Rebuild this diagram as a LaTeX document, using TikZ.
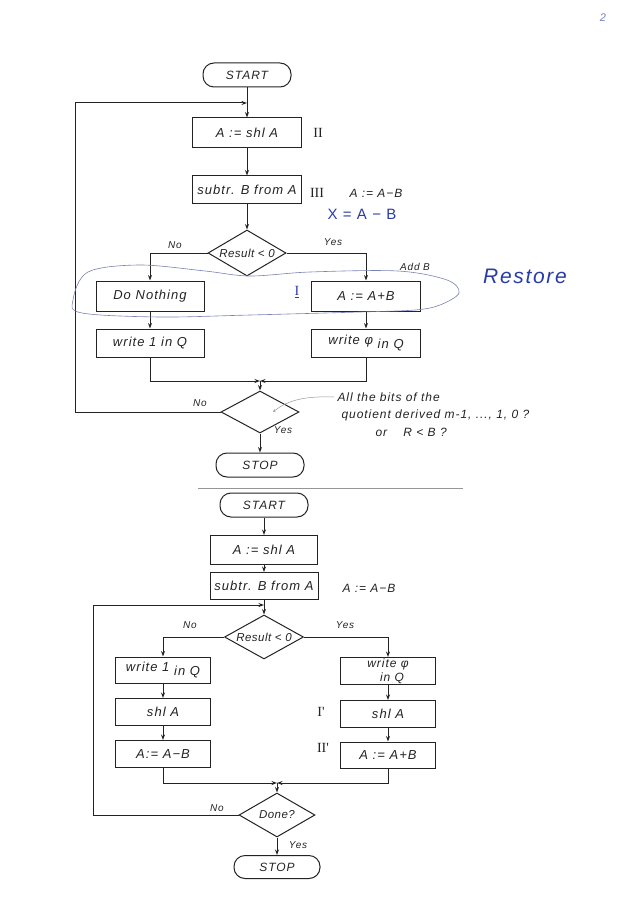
\documentclass[tikz,border=0pt]{standalone}
\usepackage{fontspec}
\setmainfont{Liberation Sans}[LetterSpace=8]
\newfontfamily\romfont{Liberation Serif}
\usetikzlibrary{arrows.meta,shapes.geometric,calc}
\definecolor{ink}{RGB}{35,35,35}
\definecolor{blueink}{RGB}{40,60,165}
\definecolor{pencil}{RGB}{120,130,180}
\definecolor{greyline}{RGB}{150,150,150}
\tikzset{
  line/.style={draw=ink, line width=1pt},
  arr/.style={line, -{Stealth[length=5.5pt,width=4pt]}},
  box/.style={draw=ink, line width=1pt, rectangle, inner sep=0pt, text=ink,
              font=\fontsize{13}{15}\selectfont\itshape},
  term/.style={draw=ink, line width=1pt, rectangle, rounded corners=11pt, inner sep=0pt,
               minimum width=88pt, minimum height=24pt, text=ink,
               font=\fontsize{12}{14}\selectfont\itshape},
  dia/.style={draw=ink, line width=1pt, diamond, inner sep=0pt},
  dtxt/.style={text=ink, font=\fontsize{11.5}{14}\selectfont\itshape\addfontfeatures{LetterSpace=4}},
  lbl/.style={text=ink, font=\fontsize{10}{12}\selectfont\itshape},
  note/.style={text=ink, font=\fontsize{12}{14}\selectfont\itshape},
  rom/.style={text=ink, font=\fontsize{14}{16}\selectfont\romfont},
}
\begin{document}
\begin{tikzpicture}[x=1pt,y=-1pt]
\useasboundingbox (0,0) rectangle (619,901);
% page number
\node[text=pencil, font=\fontsize{11}{12}\selectfont\itshape] (pg) at (603,18) {2};

% ================= TOP FLOWCHART =================
\node[term] (s1) at (247,75) {START};
\coordinate (j1) at (247,103);
\node[box, minimum width=109pt, minimum height=30pt] (b1) at (247,133) {A := shl A};
\node[box, minimum width=109pt, minimum height=28pt] (b2) at (247,190) {subtr. B from A};
\node[dia, minimum width=78pt, minimum height=46pt] (d1) at (247,253) {};
\node[dtxt] (d1t) at (d1) {Result < 0};
\node[box, minimum width=108pt, minimum height=30pt] (b3) at (150,296) {Do Nothing};
\node[box, minimum width=108pt, minimum height=28pt] (b4) at (150,343) {write 1 in Q};
\node[box, minimum width=109pt, minimum height=30pt] (b5) at (366,296) {A := A+B};
\node[box, minimum width=109pt, minimum height=28pt] (b6) at (366,343) {write φ \raisebox{-4pt}{in Q}};
\coordinate (m1) at (260,381);
\node[dia, minimum width=78pt, minimum height=42pt] (d2) at (260,412) {};
\coordinate (c1) at (273,412);
\node[term] (s2) at (260,465) {STOP};
\coordinate (lpx) at (75,0);

\draw[arr] (s1) -- (b1);
\draw[arr] (b1) -- (b2);
\draw[arr] (b2) -- (d1);
\draw[arr] (d1.west) -| (b3.north);
\draw[arr] (d1.east) -| (b5.north);
\draw[arr] (b3) -- (b4);
\draw[arr] (b5) -- (b6);
\draw[arr] (b4.south) |- (m1);
\draw[arr] (b6.south) |- (m1);
\draw[arr] (m1) -- (d2.north);
\draw[arr] (d2.west) -| (lpx |- j1) -- (j1);
\draw[arr] (d2.south) -- (s2.north);

\node[lbl] (n1) at (175,245) {No};
\node[lbl] (y1) at (333,242) {Yes};
\node[lbl] (n2) at (200,403) {No};
\node[lbl] (y2) at (283,430) {Yes};

\node[rom] (r2) at (318,133) {II};
\node[rom] (r3) at (317,193) {III};
\node[note] (e1) at (376,193) {A := A−B};
\node[text=blueink, font=\fontsize{15}{16}\selectfont] (e2) at (362,214) {X = A − B};
\node[text=blueink, font=\fontsize{14}{14}\selectfont\romfont] (r1) at (297,292) {\underline{I}};
\node[lbl] (ab) at (415,267) {Add B};
\node[text=blueink, font=\fontsize{21}{24}\selectfont\itshape] (rs) at (525,276) {Restore};
\draw[pencil, line width=0.6pt] plot[smooth cycle, tension=0.55] coordinates
  {(73,300) (88,272) (140,265) (205,271) (250,276) (310,272) (398,271) (447,280)
   (459,293) (440,305) (415,310) (360,312) (250,315) (160,317) (82,313)};

\node[note, anchor=west] (a1) at (334,397) {All the bits of the};
\node[note, anchor=west] (a2) at (338,415) {quotient derived m-1, ..., 1, 0 ?};
\node[note, anchor=west] (a3) at (372,432) {or \quad R < B ?};
\draw[greyline, line width=0.5pt, -{Stealth[length=3pt,width=2.5pt]}]
  (a1.west) .. controls (305,396) and (288,400) .. (c1);

% separator
\coordinate (sp1) at (198,488);
\coordinate (sp2) at (463,488);
\draw[greyline, line width=0.6pt] (sp1) -- (sp2);

% ================= BOTTOM FLOWCHART =================
\node[term] (s3) at (264,505) {START};
\node[box, minimum width=107pt, minimum height=29pt] (b7) at (264,550) {A := shl A};
\node[box, minimum width=108pt, minimum height=27pt] (b8) at (264,586) {subtr. B from A};
\coordinate (j2) at (264,605);
\node[dia, minimum width=79pt, minimum height=44pt] (d3) at (264,637) {};
\node[dtxt] (d3t) at (d3) {Result < 0};
\node[box, minimum width=95pt, minimum height=26pt] (b9) at (163,670) {write 1 \raisebox{-4pt}{in Q}};
\node[box, minimum width=95pt, minimum height=27pt] (b10) at (163,712) {shl A};
\node[box, minimum width=95pt, minimum height=27pt] (b11) at (163,754) {A:= A−B};
\node[box, minimum width=95pt, minimum height=27pt, align=center] (b12) at (388,671)
  {\fontsize{12}{12}\selectfont write φ\\[-1pt]\fontsize{12}{12}\selectfont\hspace*{8pt}in Q};
\node[box, minimum width=95pt, minimum height=27pt] (b13) at (388,714) {shl A};
\node[box, minimum width=95pt, minimum height=26pt] (b14) at (388,755) {A := A+B};
\coordinate (m2) at (277,783);
\node[dia, minimum width=76pt, minimum height=44pt] (d4) at (277,815) {};
\node[dtxt] (d4t) at (d4) {Done?};
\node[term, minimum width=86pt, minimum height=23pt] (s4) at (277,867) {STOP};
\coordinate (lpx2) at (93,0);

\draw[arr] (s3) -- (b7);
\draw[arr] (b7) -- (b8);
\draw[arr] (b8) -- (d3);
\draw[arr] (d3.west) -| (b9.north);
\draw[arr] (d3.east) -| (b12.north);
\draw[arr] (b9) -- (b10);
\draw[arr] (b10) -- (b11);
\draw[arr] (b12) -- (b13);
\draw[arr] (b13) -- (b14);
\draw[arr] (b11.south) |- (m2);
\draw[arr] (b14.south) |- (m2);
\draw[arr] (m2) -- (d4.north);
\draw[arr] (d4.west) -| (lpx2 |- j2) -- (j2);
\draw[arr] (d4.south) -- (s4.north);

\node[lbl] (n3) at (190,625) {No};
\node[lbl] (y3) at (345,625) {Yes};
\node[lbl] (n4) at (217,808) {No};
\node[lbl] (y4) at (298,845) {Yes};
\node[rom] (r4) at (321,712) {I'};
\node[rom] (r5) at (323,748) {II'};
\node[note] (e3) at (369,588) {A := A−B};
\end{tikzpicture}
\end{document}
